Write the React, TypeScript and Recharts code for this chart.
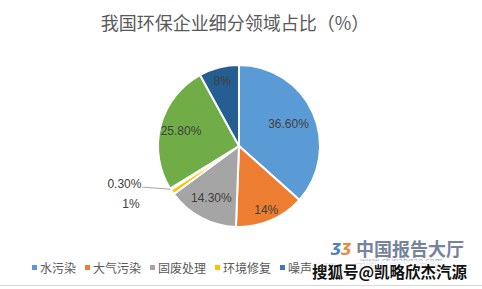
import React from "react";
import { PieChart, Pie, Cell, Legend } from "recharts";

const CATEGORIES = ["水污染", "大气污染", "固废处理", "环境修复", "噪声治理", "环境监测", "其他"];
const VALUES = [36.6, 14, 14.3, 1, 0.3, 25.8, 8];
const LABELS = ["36.60%", "14%", "14.30%", "1%", "0.30%", "25.80%", "8%"];
const COLORS = ["#5B9BD5", "#ED7D31", "#A5A5A5", "#FFC000", "#4472C4", "#70AD47", "#255E91"];

const data = CATEGORIES.map((name, i) => ({ name, value: VALUES[i], label: LABELS[i] }));

// label placement styling (radius factor, extra dx, dy)
const LABEL_STYLE = [
  { f: 0.67, dx: 0, dy: 0 },
  { f: 0.86, dx: 0, dy: 0 },
  { f: 0.73, dx: 0, dy: 0 },
  { f: 1.2, dx: -28, dy: 3 },
  { f: 1.0, dx: 0, dy: 0 },
  { f: 0.74, dx: 0, dy: 0 },
  { f: 0.83, dx: 0, dy: 0 },
];

const RAD = Math.PI / 180;

const renderLabel = (props: any) => {
  const { cx, cy, midAngle, outerRadius, index, payload } = props;
  const text = payload?.label ?? LABELS[index];
  const s = LABEL_STYLE[index];
  const cos = Math.cos(-midAngle * RAD);
  const sin = Math.sin(-midAngle * RAD);
  if (index === 4) {
    const x0 = cx + outerRadius * cos;
    const y0 = cy + outerRadius * sin;
    const x1 = x0 - 28;
    const y1 = y0 - 2;
    return (
      <g>
        <polyline points={`${x0},${y0} ${x1},${y1}`} stroke="#A6A6A6" strokeWidth={1} fill="none" />
        <text x={x1 - 1} y={y1 - 3} textAnchor="end" dominantBaseline="central" fontSize={12} fill="#404040" fontFamily="'Liberation Sans', Arial, sans-serif">
          {text}
        </text>
      </g>
    );
  }
  const r = outerRadius * s.f;
  const x = cx + r * cos + s.dx;
  const y = cy + r * sin + s.dy;
  return (
    <text x={x} y={y} textAnchor="middle" dominantBaseline="central" fontSize={12} fill="#404040" fontFamily="'Liberation Sans', Arial, sans-serif">
      {text}
    </text>
  );
};

const renderLegend = () => (
  <div style={{ display: "flex", alignItems: "center", paddingLeft: 32, fontSize: 12, color: "#595959", fontFamily: "'Noto Sans CJK SC', sans-serif", whiteSpace: "nowrap" }}>
    {CATEGORIES.map((c, i) => (
      <div key={c} style={{ display: "flex", alignItems: "center", marginRight: 9 }}>
        <span style={{ width: 5, height: 5, background: COLORS[i], display: "inline-block", marginRight: 3 }} />
        <span>{c}</span>
      </div>
    ))}
  </div>
);

export default function App() {
  return (
    <div style={{ position: "fixed", left: 0, top: 0, width: 482, height: 289, background: "#fff", overflow: "hidden" }}>
      <div style={{ position: "absolute", left: 0, top: 9, width: 470, textAlign: "center", fontSize: 18, color: "#595959", fontFamily: "'Noto Sans CJK SC', sans-serif", lineHeight: "26px" }}>
        我国环保企业细分领域占比（%）
      </div>
      <PieChart width={482} height={289} margin={{ top: 0, right: 0, bottom: 0, left: 0 }} style={{ position: "absolute", left: 0, top: 0 }}>
        <Pie
          data={data}
          dataKey="value"
          nameKey="name"
          cx={239}
          cy={146}
          outerRadius={81}
          startAngle={90}
          endAngle={-270}
          stroke="#ffffff"
          strokeWidth={2}
          label={renderLabel}
          labelLine={false}
          isAnimationActive={false}
        >
          {data.map((d, i) => (
            <Cell key={d.name} fill={COLORS[i]} />
          ))}
        </Pie>
        <Legend content={renderLegend} wrapperStyle={{ position: "absolute", top: 259, left: 0, width: 482 }} />
      </PieChart>
      <div style={{ position: "absolute", left: 331, top: 237, fontSize: 16, fontWeight: 700, color: "#4F81BD", fontStyle: "italic", fontFamily: "'DejaVu Sans', sans-serif", lineHeight: "20px" }}>
        <span>ʒ</span><span style={{ color: "#E8894A" }}>ʒ</span>
      </div>
      <div style={{ position: "absolute", left: 356, top: 238, fontSize: 18, fontWeight: 700, color: "#5E6E8C", fontFamily: "'Noto Sans CJK SC', sans-serif", lineHeight: "21px", opacity: 0.85 }}>
        中国报告大厅
      </div>
      <div style={{ position: "absolute", left: 360, top: 257, fontSize: 8, color: "#A8B4C8", fontFamily: "'DejaVu Sans', sans-serif", lineHeight: "9px" }}>
        www.chinabgao.com
      </div>
      <div style={{ position: "absolute", left: 312, top: 261, fontSize: 15.5, fontWeight: 700, color: "#111", fontFamily: "'Noto Sans CJK SC', sans-serif", lineHeight: "21px", textShadow: "0 0 2px #fff, 0 0 3px #fff, 1px 1px 2px #fff, -1px -1px 2px #fff", background: "rgba(255,255,255,0.8)" }}>
        搜狐号@凯略欣杰汽源
      </div>
      <div style={{ position: "absolute", left: 0, top: 285, width: 482, height: 1, background: "#D9D9D9" }} />
    </div>
  );
}
